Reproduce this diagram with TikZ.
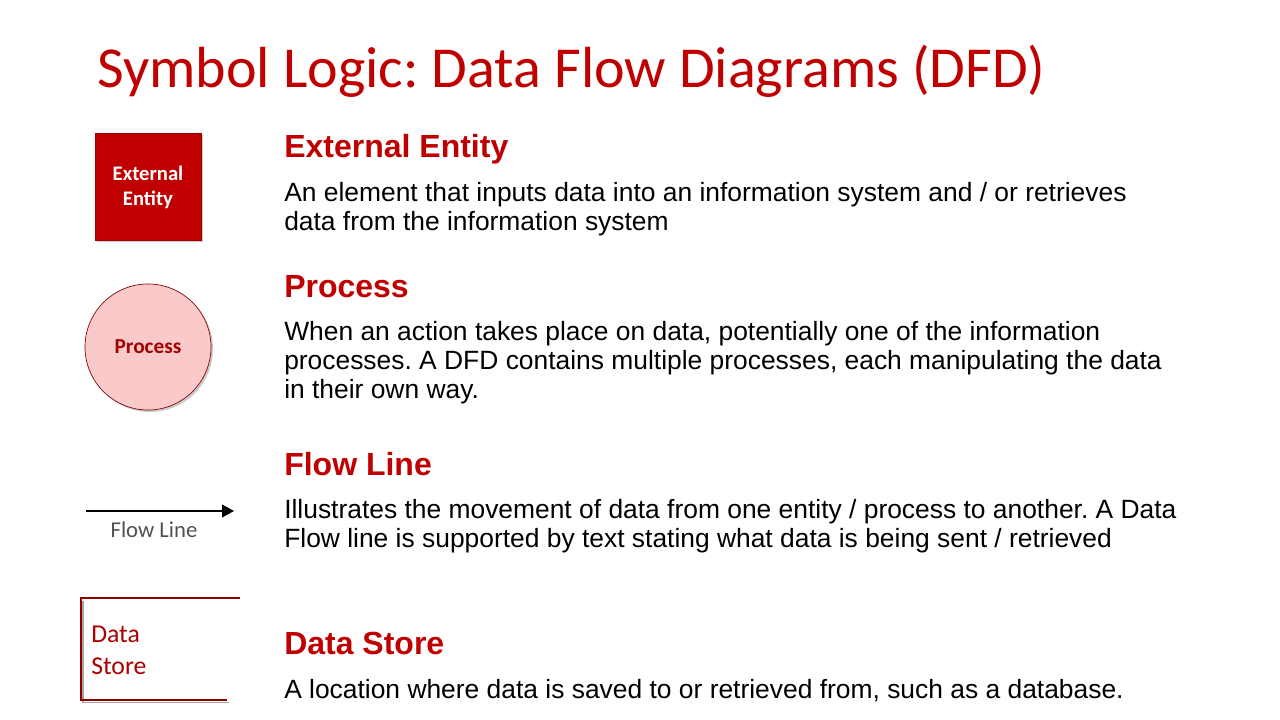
\documentclass[tikz,border=0pt]{standalone}
\usepackage{fontspec}
\setmainfont{Liberation Sans}
\newfontfamily\calibri{Carlito}
\usetikzlibrary{shadows,arrows.meta}
\definecolor{dred}{RGB}{192,0,0}
\definecolor{pinkfill}{RGB}{250,202,202}
\definecolor{boxred}{RGB}{192,0,0}
\definecolor{flowgray}{RGB}{80,80,80}
\begin{document}
\frenchspacing
\begin{tikzpicture}[x=0.75pt,y=-0.75pt,
  heading/.style={anchor=base west,inner sep=0,text=dred,font=\bfseries\fontsize{24}{28}\selectfont},
  body/.style={anchor=base west,inner sep=0,align=left,font=\fontsize{19.8}{21.75}\selectfont},
  shadowed/.style={drop shadow={shadow xshift=1.5pt,shadow yshift=-1.5pt,opacity=0.35,fill=black!60}}
]
\useasboundingbox (0,0) rectangle (1280,720);
\node[anchor=base west,inner sep=0,text=dred,font=\calibri\fontsize{43.5}{50}\selectfont] (title) at (97,88) {Symbol Logic: Data Flow Diagrams (DFD)};

% External entity
\node[shadowed,fill=boxred,draw=boxred!80!black,line width=0.4pt,minimum width=79.5pt,minimum height=80.25pt,inner sep=0,
      text=white,align=center,font=\calibri\bfseries\fontsize{15.5}{18.75}\selectfont] (ee) at (148,187) {External\\Entity};
\node[heading] (h1) at (284,158) {External Entity};
\node[body] (b1) at (284,230.5) {An element that inputs data into an information system and / or retrieves\\data from the information system};

% Process
\node[shadowed,circle,fill=pinkfill,draw=dred!70!black,line width=0.5pt,minimum size=94.5pt,inner sep=0,
      text=dred!85!black,font=\calibri\bfseries\fontsize{16}{19}\selectfont] (proc) at (148,347) {Process};
\node[heading] (h2) at (284,297) {Process};
\node[body] (b2) at (284,398.5) {When an action takes place on data, potentially one of the information\\processes. A DFD contains multiple processes, each manipulating the data\\in their own way.};

% Flow line
\coordinate (fl1) at (86,511);
\coordinate (fl2) at (234,511);
\draw[line width=1.4pt,-{Triangle[length=9pt,width=9.5pt]}] (fl1) -- (fl2);
\node[inner sep=0,text=flowgray,font=\calibri\fontsize{17}{20}\selectfont] (fllabel) at (154,530) {Flow Line};
\node[heading] (h3) at (284,475) {Flow Line};
\node[body] (b3) at (284,547) {Illustrates the movement of data from one entity / process to another. A Data\\Flow line is supported by text stating what data is being sent / retrieved};

% Data store
\coordinate (dsA) at (240,598);
\coordinate (dsB) at (81,598);
\coordinate (dsC) at (81,700);
\coordinate (dsD) at (227,700);
\draw[black!35,line width=1.2pt] ([shift={(2,2.5)}]dsB) -- ([shift={(2,2.5)}]dsC) -- ([shift={(2,2.5)}]dsD);
\draw[dred!75!black,line width=0.9pt] (dsA) -- (dsB) -- (dsC) -- (dsD);
\node[anchor=base west,inner sep=0,align=left,text=dred!90!black,font=\calibri\fontsize{19.3}{24}\selectfont] (dslabel) at (91,674) {Data\\Store};
\node[heading] (h4) at (284,654) {Data Store};
\node[body] (b4) at (284,698) {A location where data is saved to or retrieved from, such as a database.};
\end{tikzpicture}
\end{document}
